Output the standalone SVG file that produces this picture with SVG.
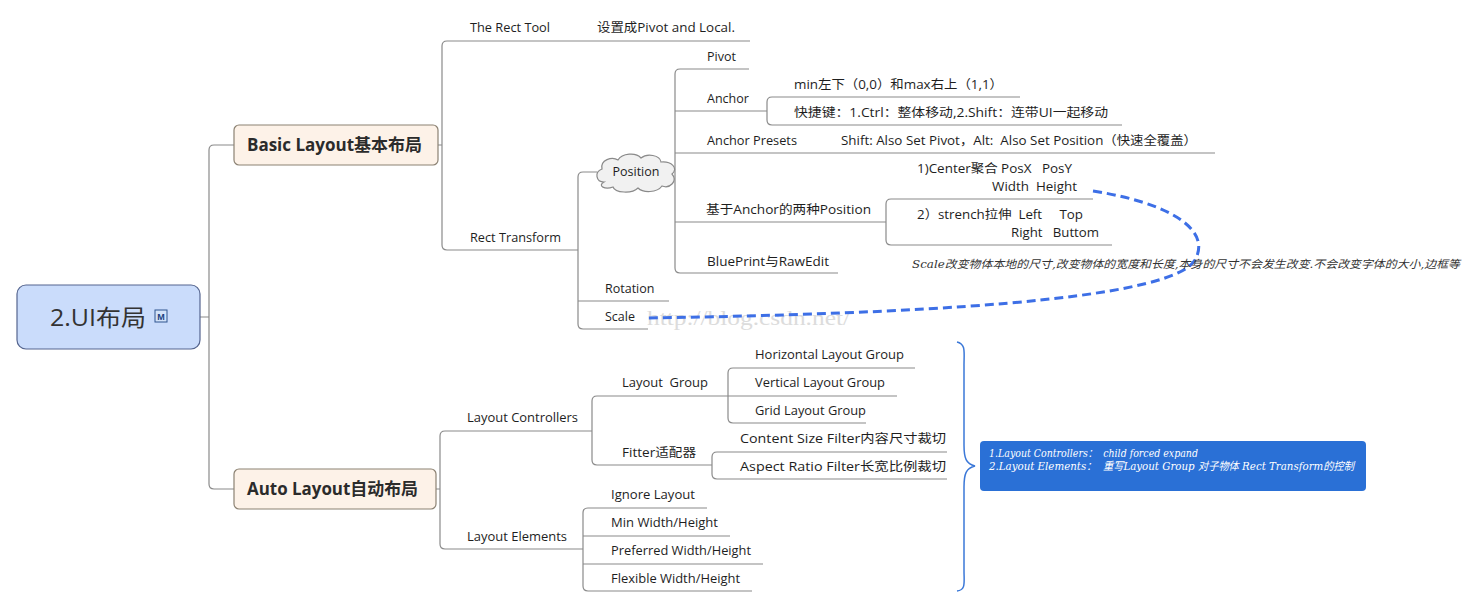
<svg xmlns="http://www.w3.org/2000/svg" width="1476" height="608" viewBox="0 0 1476 608">
<style>
.t{font-family:"Open Sans","Noto Sans CJK SC",sans-serif;font-size:12.5px;fill:#1e1e1e;white-space:pre}
.b{font-family:"Open Sans","Noto Sans CJK SC",sans-serif;font-size:17px;font-weight:bold;fill:#2b2b2b}
.c{fill:none;stroke:#8a8a8a;stroke-width:1.2}
.n{font-family:"DejaVu Serif","Noto Sans CJK SC",serif;font-style:italic;font-size:11px;white-space:pre}
</style>
<rect width="1476" height="608" fill="#ffffff"/>
<g id="connectors">
<path class="c" d="M200 317 H209 M234 145 H214 Q209 145 209 150 V484 Q209 489 214 489 H234"/>
<path class="c" d="M438 145 H442 M750 41 H447 Q442 41 442 46 V245 Q442 250 447 250 H578"/>
<path class="c" d="M597 172 H583 Q578 172 578 177 V324 Q578 329 583 329 H648 M578 301 H669"/>
<path class="c" d="M749 69 H680 Q675 69 675 74 V268 Q675 273 680 273 H838 M675 111 H767 M675 153 H1215 M675 222 H886"/>
<path class="c" d="M1020 97 H772 Q767 97 767 102 V120 Q767 125 772 125 H1122"/>
<path class="c" d="M1093 199 H891 Q886 199 886 204 V240 Q886 245 891 245 H1112"/>
<path class="c" d="M436 489 H440 M592 431 H445 Q440 431 440 436 V544 Q440 549 445 549 H583"/>
<path class="c" d="M728 396 H597 Q592 396 592 401 V460 Q592 465 597 465 H712"/>
<path class="c" d="M915 368 H733 Q728 368 728 373 V418 Q728 423 733 423 H866 M728 396 H897"/>
<path class="c" d="M947 452 H717 Q712 452 712 457 V474 Q712 479 717 479 H947"/>
<path class="c" d="M707 508 H588 Q583 508 583 513 V586 Q583 591 588 591 H752 M583 536 H730 M583 564 H763"/>
<text x="647" y="325" font-family="Liberation Serif,serif" font-size="20" fill="#dcdcdc" textLength="203" lengthAdjust="spacingAndGlyphs">http://blog.csdn.net/</text>
<path d="M1093 191 C1170 203 1212 230 1195 260 C1170 302 900 314 648 318" fill="none" stroke="#3d6fe6" stroke-width="3" stroke-dasharray="9 5"/>
<path d="M957 342 C966 344 964 352 964 365 V445 C964 458 966 464 975 466 C966 468 964 474 964 487 V570 C964 583 966 590 957 591" fill="none" stroke="#3b78d8" stroke-width="1.5"/>
</g>
<g id="root">
<rect x="17" y="285" width="183" height="64" rx="9" fill="#cadcfb" stroke="#55658f" stroke-width="1.2"/>
<text x="50" y="326" font-family="Open Sans,Noto Sans CJK SC,sans-serif" font-size="23" fill="#333" textLength="96" lengthAdjust="spacingAndGlyphs">2.UI布局</text>
<rect x="155" y="310" width="12" height="12" fill="#d2e2f8" stroke="#2f548f" stroke-width="1"/>
<text x="161" y="320" font-family="Liberation Sans,sans-serif" font-size="9" font-weight="bold" fill="#1a3f80" text-anchor="middle">M</text>
</g>
<g id="basic">
<rect x="234" y="125" width="204" height="40" rx="5" fill="#fdf2e8" stroke="#8c8273" stroke-width="1.2"/>
<text class="b" x="247" y="151" textLength="175" lengthAdjust="spacingAndGlyphs">Basic Layout基本布局</text>
</g>
<g id="auto">
<rect x="234" y="469" width="202" height="40" rx="5" fill="#fdf2e8" stroke="#8c8273" stroke-width="1.2"/>
<text class="b" x="247" y="495" textLength="171" lengthAdjust="spacingAndGlyphs">Auto Layout自动布局</text>
</g>
<g id="recttool"><text class="t" x="470" y="32" textLength="80" lengthAdjust="spacingAndGlyphs">The Rect Tool</text></g>
<g id="recttool-note"><text class="t" x="597" y="32" textLength="138" lengthAdjust="spacingAndGlyphs">设置成Pivot and Local.</text></g>
<g id="recttransform"><text class="t" x="470" y="242" textLength="91" lengthAdjust="spacingAndGlyphs">Rect Transform</text></g>
<g id="position">
<path d="M604 182 C596 182 594 172 602 169 C600 160 612 156 618 160 C622 153 636 152 641 158 C647 153 660 155 661 162 C671 161 679 168 672 174 C678 181 670 189 662 186 C657 193 643 193 638 188 C632 194 615 193 613 187 C605 190 597 186 604 182 Z" fill="#f1f1f1" stroke="#8a8a8a" stroke-width="1.2"/>
<text class="t" x="636" y="176" text-anchor="middle">Position</text>
</g>
<g id="rotation"><text class="t" x="605" y="293">Rotation</text></g>
<g id="scale"><text class="t" x="605" y="321">Scale</text></g>
<g id="pivot"><text class="t" x="707" y="61">Pivot</text></g>
<g id="anchor"><text class="t" x="707" y="103">Anchor</text></g>
<g id="anchor-minmax"><text class="t" x="794" y="89" textLength="209" lengthAdjust="spacingAndGlyphs">min左下（0,0）和max右上（1,1）</text></g>
<g id="anchor-keys"><text class="t" x="794" y="117" textLength="314" lengthAdjust="spacingAndGlyphs">快捷键：1.Ctrl：整体移动,2.Shift：连带UI一起移动</text></g>
<g id="presets"><text class="t" x="707" y="145" textLength="90" lengthAdjust="spacingAndGlyphs">Anchor Presets</text></g>
<g id="presets-note"><text class="t" x="841" y="145" textLength="356" lengthAdjust="spacingAndGlyphs">Shift: Also Set Pivot，Alt:  Also Set Position（快速全覆盖）</text></g>
<g id="two-pos"><text class="t" x="706" y="214" textLength="165" lengthAdjust="spacingAndGlyphs">基于Anchor的两种Position</text></g>
<g id="center">
<text class="t" x="917" y="173" textLength="155" lengthAdjust="spacingAndGlyphs">1)Center聚合 PosX   PosY</text>
<text class="t" x="992" y="191" textLength="85" lengthAdjust="spacingAndGlyphs">Width  Height</text>
</g>
<g id="strench">
<text class="t" x="917" y="219" textLength="166" lengthAdjust="spacingAndGlyphs">2）strench拉伸  Left     Top</text>
<text class="t" x="1011" y="237" textLength="88" lengthAdjust="spacingAndGlyphs">Right   Buttom</text>
</g>
<g id="blueprint"><text class="t" x="707" y="266" textLength="122" lengthAdjust="spacingAndGlyphs">BluePrint与RawEdit</text></g>
<g id="scale-note"><text class="n" x="912" y="268" fill="#333" textLength="548" lengthAdjust="spacingAndGlyphs">Scale改变物体本地的尺寸,改变物体的宽度和长度,本身的尺寸不会发生改变.不会改变字体的大小,边框等</text></g>
<g id="layout-controllers"><text class="t" x="467" y="422" textLength="111" lengthAdjust="spacingAndGlyphs">Layout Controllers</text></g>
<g id="layout-group"><text class="t" x="622" y="387" textLength="86" lengthAdjust="spacingAndGlyphs">Layout  Group</text></g>
<g id="fitter"><text class="t" x="622" y="457" textLength="74" lengthAdjust="spacingAndGlyphs">Fitter适配器</text></g>
<g id="hlg"><text class="t" x="755" y="359" textLength="149" lengthAdjust="spacingAndGlyphs">Horizontal Layout Group</text></g>
<g id="vlg"><text class="t" x="755" y="387" textLength="130" lengthAdjust="spacingAndGlyphs">Vertical Layout Group</text></g>
<g id="glg"><text class="t" x="755" y="415" textLength="111" lengthAdjust="spacingAndGlyphs">Grid Layout Group</text></g>
<g id="csf"><text class="t" x="740" y="443" textLength="206" lengthAdjust="spacingAndGlyphs">Content Size Filter内容尺寸裁切</text></g>
<g id="arf"><text class="t" x="740" y="471" textLength="206" lengthAdjust="spacingAndGlyphs">Aspect Ratio Filter长宽比例裁切</text></g>
<g id="layout-elements"><text class="t" x="467" y="541" textLength="100" lengthAdjust="spacingAndGlyphs">Layout Elements</text></g>
<g id="ignore"><text class="t" x="611" y="499" textLength="84" lengthAdjust="spacingAndGlyphs">Ignore Layout</text></g>
<g id="minwh"><text class="t" x="611" y="527" textLength="107" lengthAdjust="spacingAndGlyphs">Min Width/Height</text></g>
<g id="prefwh"><text class="t" x="611" y="555" textLength="140" lengthAdjust="spacingAndGlyphs">Preferred Width/Height</text></g>
<g id="flexwh"><text class="t" x="611" y="583" textLength="129" lengthAdjust="spacingAndGlyphs">Flexible Width/Height</text></g>
<g id="summary">
<rect x="980" y="441" width="386" height="50" rx="4" fill="#2a70d6"/>
<text class="n" x="989" y="457" fill="#ffffff" textLength="209" lengthAdjust="spacingAndGlyphs">1.Layout Controllers：  child forced expand</text>
<text class="n" x="989" y="470" fill="#ffffff" textLength="365" lengthAdjust="spacingAndGlyphs">2.Layout Elements：  重写Layout Group 对子物体 Rect Transform的控制</text>
</g>
</svg>
